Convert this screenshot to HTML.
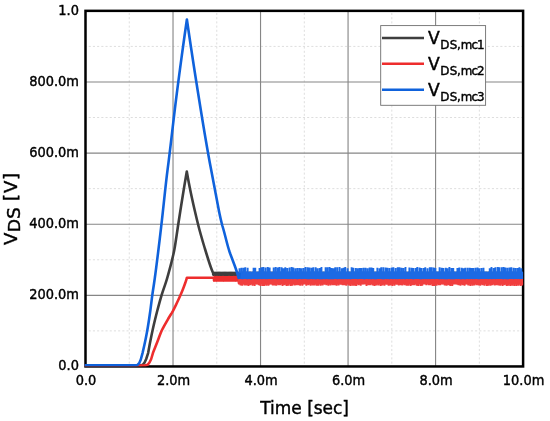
<!DOCTYPE html>
<html><head><meta charset="utf-8"><title>VDS plot</title>
<style>
html,body{margin:0;padding:0;background:#fff;}
body{width:550px;height:421px;overflow:hidden;}
svg{display:block;filter:blur(0.35px);}
text{font-family:"DejaVu Sans","Liberation Sans",sans-serif;fill:#000;stroke:#000;stroke-width:0.42px;}
</style></head><body>
<svg width="550" height="421" viewBox="0 0 550 421">
<defs><clipPath id="ax"><rect x="84.50" y="10.85" width="438.60" height="355.70"/></clipPath></defs>
<rect width="550" height="421" fill="#fff"/>
<line x1="129.26" y1="10.85" x2="129.26" y2="366.45" stroke="#dedede" stroke-width="1" stroke-dasharray="2.1 2.1" stroke-dashoffset="2.1"/>
<line x1="216.78" y1="10.85" x2="216.78" y2="366.45" stroke="#dedede" stroke-width="1" stroke-dasharray="2.1 2.1" stroke-dashoffset="2.1"/>
<line x1="304.30" y1="10.85" x2="304.30" y2="366.45" stroke="#dedede" stroke-width="1" stroke-dasharray="2.1 2.1" stroke-dashoffset="2.1"/>
<line x1="391.82" y1="10.85" x2="391.82" y2="366.45" stroke="#dedede" stroke-width="1" stroke-dasharray="2.1 2.1" stroke-dashoffset="2.1"/>
<line x1="479.34" y1="10.85" x2="479.34" y2="366.45" stroke="#dedede" stroke-width="1" stroke-dasharray="2.1 2.1" stroke-dashoffset="2.1"/>
<line x1="85.5" y1="330.89" x2="523.1" y2="330.89" stroke="#dedede" stroke-width="1" stroke-dasharray="2.1 2.1" stroke-dashoffset="1.0"/>
<line x1="85.5" y1="259.77" x2="523.1" y2="259.77" stroke="#dedede" stroke-width="1" stroke-dasharray="2.1 2.1" stroke-dashoffset="1.0"/>
<line x1="85.5" y1="188.65" x2="523.1" y2="188.65" stroke="#dedede" stroke-width="1" stroke-dasharray="2.1 2.1" stroke-dashoffset="1.0"/>
<line x1="85.5" y1="117.53" x2="523.1" y2="117.53" stroke="#dedede" stroke-width="1" stroke-dasharray="2.1 2.1" stroke-dashoffset="1.0"/>
<line x1="85.5" y1="46.41" x2="523.1" y2="46.41" stroke="#dedede" stroke-width="1" stroke-dasharray="2.1 2.1" stroke-dashoffset="1.0"/>
<line x1="173.02" y1="10.85" x2="173.02" y2="366.45" stroke="#868686" stroke-width="1.12"/>
<line x1="260.54" y1="10.85" x2="260.54" y2="366.45" stroke="#868686" stroke-width="1.12"/>
<line x1="348.06" y1="10.85" x2="348.06" y2="366.45" stroke="#868686" stroke-width="1.12"/>
<line x1="435.58" y1="10.85" x2="435.58" y2="366.45" stroke="#868686" stroke-width="1.12"/>
<line x1="85.5" y1="295.33" x2="523.1" y2="295.33" stroke="#868686" stroke-width="1.12"/>
<line x1="85.5" y1="224.21" x2="523.1" y2="224.21" stroke="#868686" stroke-width="1.12"/>
<line x1="85.5" y1="153.09" x2="523.1" y2="153.09" stroke="#868686" stroke-width="1.12"/>
<line x1="85.5" y1="81.97" x2="523.1" y2="81.97" stroke="#868686" stroke-width="1.12"/>
<rect x="85.5" y="10.85" width="437.6" height="355.59999999999997" fill="none" stroke="#000" stroke-width="2.5"/>
<g clip-path="url(#ax)" fill="none" stroke-width="2.6" stroke-linejoin="round" stroke-linecap="butt">
<polyline stroke="#3e3e3e" points="84.30,365.40 140.50,365.40 142.80,364.80 144.60,362.50 146.20,359.00 148.20,352.80 148.55,350.80 148.90,348.80 149.27,346.80 149.64,344.80 150.02,342.80 150.42,340.80 150.81,338.80 151.22,336.80 151.63,334.80 152.05,332.80 152.48,330.80 152.91,328.80 153.36,326.80 153.82,324.80 154.29,322.80 154.77,320.80 155.25,318.80 155.75,316.80 156.25,314.80 156.76,312.80 157.27,310.80 157.79,308.80 158.31,306.80 158.85,304.80 159.39,302.80 159.95,300.80 160.52,298.80 161.10,296.80 161.69,294.80 162.32,292.80 162.98,290.80 163.66,288.80 164.35,286.80 165.04,284.80 165.71,282.80 166.35,280.80 166.96,278.80 167.54,276.80 168.10,274.80 168.65,272.80 169.20,270.80 169.74,268.80 170.28,266.80 170.81,264.80 171.33,262.80 171.83,260.80 172.32,258.80 172.81,256.80 173.28,254.80 173.73,252.80 174.14,250.80 174.51,248.80 174.86,246.80 175.19,244.80 175.50,242.80 175.80,240.80 176.10,238.80 176.41,236.80 176.71,234.80 177.01,232.80 177.31,230.80 177.60,228.80 177.89,226.80 178.19,224.80 178.50,222.80 178.81,220.80 179.12,218.80 179.43,216.80 179.74,214.80 180.05,212.80 180.36,210.80 180.68,208.80 180.99,206.80 181.31,204.80 181.63,202.80 181.95,200.80 182.27,198.80 182.59,196.80 182.91,194.80 183.24,192.80 183.56,190.80 183.89,188.80 184.22,186.80 184.55,184.80 184.89,182.80 185.22,180.80 185.56,178.80 185.89,176.80 186.23,174.80 186.58,172.80 186.80,171.50 187.14,173.50 187.49,175.50 187.84,177.50 188.21,179.50 188.58,181.50 188.96,183.50 189.35,185.50 189.75,187.50 190.15,189.50 190.56,191.50 190.98,193.50 191.40,195.50 191.83,197.50 192.27,199.50 192.71,201.50 193.15,203.50 193.60,205.50 194.06,207.50 194.52,209.50 194.99,211.50 195.45,213.50 195.93,215.50 196.40,217.50 196.88,219.50 197.37,221.50 197.85,223.50 198.35,225.50 198.86,227.50 199.39,229.50 199.93,231.50 200.48,233.50 201.05,235.50 201.62,237.50 202.19,239.50 202.76,241.50 203.35,243.50 203.95,245.50 204.55,247.50 205.16,249.50 205.78,251.50 206.40,253.50 207.02,255.50 207.64,257.50 208.27,259.50 208.90,261.50 209.55,263.50 210.23,265.50 210.93,267.50 211.67,269.50 212.46,271.50 213.20,273.30 213.20,274.60 213.80,272.90 214.40,274.60 215.00,272.90 215.60,274.60 216.20,272.90 216.80,274.60 217.40,272.90 218.00,274.60 218.60,272.90 219.20,274.60 219.80,272.90 220.40,274.60 221.00,272.90 221.60,274.60 222.20,272.90 222.80,274.60 223.40,272.90 224.00,274.60 224.60,272.90 225.20,274.60 225.80,272.90 226.40,274.60 227.00,272.90 227.60,274.60 228.20,272.90 228.80,274.60 229.40,272.90 230.00,274.60 230.60,272.90 231.20,274.60 231.80,272.90 232.40,274.60 233.00,272.90 233.60,274.60 234.20,272.90 234.80,274.60 235.40,272.90 236.00,274.60 236.60,272.90 237.20,274.60 237.80,272.90 238.40,274.60 239.00,272.90 239.60,274.60 240.20,272.90 240.80,274.60 241.40,272.90 242.00,274.60 242.60,272.90 243.20,274.60 243.80,272.90 244.40,274.60 245.00,272.90 245.60,274.60 246.20,272.90 246.80,274.60 247.40,272.90 248.00,274.60 248.60,272.90 249.20,274.60 249.80,272.90 250.40,274.60 251.00,272.90 251.60,274.60 252.20,272.90 252.80,274.60 253.40,272.90 254.00,274.60 254.60,272.90 255.20,274.60 255.80,272.90 256.40,274.60 257.00,272.90 257.60,274.60 258.20,272.90 258.80,274.60 259.40,272.90 260.00,274.60 260.60,272.90 261.20,274.60 261.80,272.90 262.40,274.60 263.00,272.90 263.60,274.60 264.20,272.90 264.80,274.60 265.40,272.90 266.00,274.60 266.60,272.90 267.20,274.60 267.80,272.90 268.40,274.60 269.00,272.90 269.60,274.60 270.20,272.90 270.80,274.60 271.40,272.90 272.00,274.60 272.60,272.90 273.20,274.60 273.80,272.90 274.40,274.60 275.00,272.90 275.60,274.60 276.20,272.90 276.80,274.60 277.40,272.90 278.00,274.60 278.60,272.90 279.20,274.60 279.80,272.90 280.40,274.60 281.00,272.90 281.60,274.60 282.20,272.90 282.80,274.60 283.40,272.90 284.00,274.60 284.60,272.90 285.20,274.60 285.80,272.90 286.40,274.60 287.00,272.90 287.60,274.60 288.20,272.90 288.80,274.60 289.40,272.90 290.00,274.60 290.60,272.90 291.20,274.60 291.80,272.90 292.40,274.60 293.00,272.90 293.60,274.60 294.20,272.90 294.80,274.60 295.40,272.90 296.00,274.60 296.60,272.90 297.20,274.60 297.80,272.90 298.40,274.60 299.00,272.90 299.60,274.60 300.20,272.90 300.80,274.60 301.40,272.90 302.00,274.60 302.60,272.90 303.20,274.60 303.80,272.90 304.40,274.60 305.00,272.90 305.60,274.60 306.20,272.90 306.80,274.60 307.40,272.90 308.00,274.60 308.60,272.90 309.20,274.60 309.80,272.90 310.40,274.60 311.00,272.90 311.60,274.60 312.20,272.90 312.80,274.60 313.40,272.90 314.00,274.60 314.60,272.90 315.20,274.60 315.80,272.90 316.40,274.60 317.00,272.90 317.60,274.60 318.20,272.90 318.80,274.60 319.40,272.90 320.00,274.60 320.60,272.90 321.20,274.60 321.80,272.90 322.40,274.60 323.00,272.90 323.60,274.60 324.20,272.90 324.80,274.60 325.40,272.90 326.00,274.60 326.60,272.90 327.20,274.60 327.80,272.90 328.40,274.60 329.00,272.90 329.60,274.60 330.20,272.90 330.80,274.60 331.40,272.90 332.00,274.60 332.60,272.90 333.20,274.60 333.80,272.90 334.40,274.60 335.00,272.90 335.60,274.60 336.20,272.90 336.80,274.60 337.40,272.90 338.00,274.60 338.60,272.90 339.20,274.60 339.80,272.90 340.40,274.60 341.00,272.90 341.60,274.60 342.20,272.90 342.80,274.60 343.40,272.90 344.00,274.60 344.60,272.90 345.20,274.60 345.80,272.90 346.40,274.60 347.00,272.90 347.60,274.60 348.20,272.90 348.80,274.60 349.40,272.90 350.00,274.60 350.60,272.90 351.20,274.60 351.80,272.90 352.40,274.60 353.00,272.90 353.60,274.60 354.20,272.90 354.80,274.60 355.40,272.90 356.00,274.60 356.60,272.90 357.20,274.60 357.80,272.90 358.40,274.60 359.00,272.90 359.60,274.60 360.20,272.90 360.80,274.60 361.40,272.90 362.00,274.60 362.60,272.90 363.20,274.60 363.80,272.90 364.40,274.60 365.00,272.90 365.60,274.60 366.20,272.90 366.80,274.60 367.40,272.90 368.00,274.60 368.60,272.90 369.20,274.60 369.80,272.90 370.40,274.60 371.00,272.90 371.60,274.60 372.20,272.90 372.80,274.60 373.40,272.90 374.00,274.60 374.60,272.90 375.20,274.60 375.80,272.90 376.40,274.60 377.00,272.90 377.60,274.60 378.20,272.90 378.80,274.60 379.40,272.90 380.00,274.60 380.60,272.90 381.20,274.60 381.80,272.90 382.40,274.60 383.00,272.90 383.60,274.60 384.20,272.90 384.80,274.60 385.40,272.90 386.00,274.60 386.60,272.90 387.20,274.60 387.80,272.90 388.40,274.60 389.00,272.90 389.60,274.60 390.20,272.90 390.80,274.60 391.40,272.90 392.00,274.60 392.60,272.90 393.20,274.60 393.80,272.90 394.40,274.60 395.00,272.90 395.60,274.60 396.20,272.90 396.80,274.60 397.40,272.90 398.00,274.60 398.60,272.90 399.20,274.60 399.80,272.90 400.40,274.60 401.00,272.90 401.60,274.60 402.20,272.90 402.80,274.60 403.40,272.90 404.00,274.60 404.60,272.90 405.20,274.60 405.80,272.90 406.40,274.60 407.00,272.90 407.60,274.60 408.20,272.90 408.80,274.60 409.40,272.90 410.00,274.60 410.60,272.90 411.20,274.60 411.80,272.90 412.40,274.60 413.00,272.90 413.60,274.60 414.20,272.90 414.80,274.60 415.40,272.90 416.00,274.60 416.60,272.90 417.20,274.60 417.80,272.90 418.40,274.60 419.00,272.90 419.60,274.60 420.20,272.90 420.80,274.60 421.40,272.90 422.00,274.60 422.60,272.90 423.20,274.60 423.80,272.90 424.40,274.60 425.00,272.90 425.60,274.60 426.20,272.90 426.80,274.60 427.40,272.90 428.00,274.60 428.60,272.90 429.20,274.60 429.80,272.90 430.40,274.60 431.00,272.90 431.60,274.60 432.20,272.90 432.80,274.60 433.40,272.90 434.00,274.60 434.60,272.90 435.20,274.60 435.80,272.90 436.40,274.60 437.00,272.90 437.60,274.60 438.20,272.90 438.80,274.60 439.40,272.90 440.00,274.60 440.60,272.90 441.20,274.60 441.80,272.90 442.40,274.60 443.00,272.90 443.60,274.60 444.20,272.90 444.80,274.60 445.40,272.90 446.00,274.60 446.60,272.90 447.20,274.60 447.80,272.90 448.40,274.60 449.00,272.90 449.60,274.60 450.20,272.90 450.80,274.60 451.40,272.90 452.00,274.60 452.60,272.90 453.20,274.60 453.80,272.90 454.40,274.60 455.00,272.90 455.60,274.60 456.20,272.90 456.80,274.60 457.40,272.90 458.00,274.60 458.60,272.90 459.20,274.60 459.80,272.90 460.40,274.60 461.00,272.90 461.60,274.60 462.20,272.90 462.80,274.60 463.40,272.90 464.00,274.60 464.60,272.90 465.20,274.60 465.80,272.90 466.40,274.60 467.00,272.90 467.60,274.60 468.20,272.90 468.80,274.60 469.40,272.90 470.00,274.60 470.60,272.90 471.20,274.60 471.80,272.90 472.40,274.60 473.00,272.90 473.60,274.60 474.20,272.90 474.80,274.60 475.40,272.90 476.00,274.60 476.60,272.90 477.20,274.60 477.80,272.90 478.40,274.60 479.00,272.90 479.60,274.60 480.20,272.90 480.80,274.60 481.40,272.90 482.00,274.60 482.60,272.90 483.20,274.60 483.80,272.90 484.40,274.60 485.00,272.90 485.60,274.60 486.20,272.90 486.80,274.60 487.40,272.90 488.00,274.60 488.60,272.90 489.20,274.60 489.80,272.90 490.40,274.60 491.00,272.90 491.60,274.60 492.20,272.90 492.80,274.60 493.40,272.90 494.00,274.60 494.60,272.90 495.20,274.60 495.80,272.90 496.40,274.60 497.00,272.90 497.60,274.60 498.20,272.90 498.80,274.60 499.40,272.90 500.00,274.60 500.60,272.90 501.20,274.60 501.80,272.90 502.40,274.60 503.00,272.90 503.60,274.60 504.20,272.90 504.80,274.60 505.40,272.90 506.00,274.60 506.60,272.90 507.20,274.60 507.80,272.90 508.40,274.60 509.00,272.90 509.60,274.60 510.20,272.90 510.80,274.60 511.40,272.90 512.00,274.60 512.60,272.90 513.20,274.60 513.80,272.90 514.40,274.60 515.00,272.90 515.60,274.60 516.20,272.90 516.80,274.60 517.40,272.90 518.00,274.60 518.60,272.90 519.20,274.60 519.80,272.90 520.40,274.60 521.00,272.90 521.60,274.60 522.20,272.90 522.80,274.60 523.40,272.90 524.00,274.60"/>
<polyline stroke="#ee2d2d" points="84.30,365.50 145.00,365.50 147.50,364.80 149.50,362.50 151.20,359.00 153.00,352.80 153.80,350.80 154.60,348.80 155.40,346.80 156.19,344.80 156.98,342.80 157.76,340.80 158.51,338.80 159.25,336.80 160.00,334.80 160.79,332.80 161.65,330.80 162.61,328.80 163.65,326.80 164.76,324.80 165.90,322.80 167.04,320.80 168.20,318.80 169.42,316.80 170.66,314.80 171.87,312.80 172.99,310.80 174.01,308.80 175.00,306.80 175.99,304.80 176.96,302.80 177.91,300.80 178.84,298.80 179.74,296.80 180.63,294.80 181.49,292.80 182.32,290.80 183.11,288.80 183.88,286.80 184.61,284.80 185.31,282.80 185.96,280.80 186.58,278.80 186.90,277.70 214.00,277.70 214.00,280.59 214.60,277.11 215.20,280.41 215.80,277.28 216.40,280.57 217.00,277.15 217.60,280.53 218.20,277.24 218.80,280.52 219.40,277.18 220.00,280.52 220.60,277.27 221.20,280.49 221.80,277.22 222.40,280.54 223.00,277.10 223.60,280.59 224.20,277.19 224.80,280.49 225.40,277.25 226.00,280.41 226.60,277.29 227.20,280.49 227.80,277.24 228.40,280.48 229.00,277.12 229.60,280.51 230.20,277.19 230.80,280.45 231.40,277.30 232.00,280.47 232.60,277.27 233.20,280.50 233.80,277.10 234.40,280.53 235.00,277.26 235.60,280.58 236.20,277.14 236.80,280.55 237.40,277.12 238.00,280.55 238.60,277.14 239.20,280.47 239.80,277.10 239.00,283.25 239.50,276.89"/>
<polyline stroke="#f13e3e" points="239.00,283.25 239.50,276.89 240.00,283.27 240.50,276.88 241.00,283.33 241.50,276.99 242.00,283.20 242.50,276.83 243.00,283.25 243.50,276.95 244.00,283.40 244.50,276.91 245.00,283.37 245.50,276.90 246.00,283.33 246.50,276.97 247.00,283.33 247.50,276.83 248.00,283.30 248.50,276.85 249.00,283.33 249.50,276.99 250.00,283.35 250.50,276.88 251.00,283.26 251.50,276.99 252.00,283.37 252.50,276.91 253.00,283.34 253.50,276.82 254.00,283.34 254.50,276.82 255.00,283.28 255.50,276.84 256.00,283.29 256.50,276.81 257.00,283.38 257.50,276.98 258.00,283.23 258.50,276.96 259.00,283.39 259.50,276.91 260.00,283.33 260.50,276.94 261.00,283.30 261.50,276.92 262.00,283.27 262.50,276.88 263.00,283.32 263.50,276.82 264.00,283.34 264.50,276.81 265.00,283.37 265.50,276.80 266.00,283.33 266.50,276.97 267.00,283.37 267.50,276.81 268.00,283.38 268.50,276.89 269.00,283.34 269.50,276.96 270.00,283.37 270.50,276.89 271.00,283.26 271.50,276.99 272.00,283.37 272.50,276.80 273.00,283.22 273.50,276.84 274.00,283.28 274.50,276.97 275.00,283.26 275.50,276.85 276.00,283.37 276.50,276.99 277.00,283.32 277.50,276.99 278.00,283.34 278.50,276.93 279.00,283.38 279.50,276.80 280.00,283.30 280.50,276.80 281.00,283.26 281.50,276.98 282.00,283.32 282.50,276.99 283.00,283.24 283.50,276.92 284.00,283.32 284.50,276.97 285.00,283.21 285.50,276.83 286.00,283.26 286.50,276.81 287.00,283.38 287.50,276.92 288.00,283.29 288.50,276.90 289.00,283.33 289.50,276.88 290.00,283.31 290.50,276.88 291.00,283.39 291.50,276.90 292.00,283.29 292.50,276.86 293.00,283.25 293.50,276.94 294.00,283.40 294.50,276.90 295.00,283.31 295.50,277.00 296.00,283.28 296.50,276.88 297.00,283.20 297.50,276.88 298.00,283.33 298.50,276.99 299.00,283.33 299.50,276.91 300.00,283.34 300.50,276.93 301.00,283.34 301.50,276.85 302.00,283.20 302.50,276.99 303.00,283.34 303.50,276.81 304.00,283.25 304.50,276.91 305.00,283.32 305.50,276.94 306.00,283.27 306.50,276.94 307.00,283.27 307.50,276.88 308.00,283.26 308.50,276.92 309.00,283.35 309.50,276.99 310.00,283.31 310.50,276.85 311.00,283.26 311.50,276.96 312.00,283.36 312.50,276.95 313.00,283.24 313.50,276.91 314.00,283.34 314.50,276.98 315.00,283.26 315.50,276.93 316.00,283.37 316.50,276.91 317.00,283.37 317.50,276.97 318.00,283.27 318.50,276.87 319.00,283.38 319.50,276.91 320.00,283.25 320.50,276.98 321.00,283.31 321.50,276.96 322.00,283.36 322.50,276.83 323.00,283.24 323.50,276.94 324.00,283.36 324.50,276.87 325.00,283.36 325.50,276.93 326.00,283.23 326.50,276.94 327.00,283.36 327.50,276.95 328.00,283.27 328.50,276.92 329.00,283.28 329.50,276.92 330.00,283.38 330.50,276.97 331.00,283.20 331.50,276.81 332.00,283.38 332.50,276.80 333.00,283.29 333.50,276.81 334.00,283.39 334.50,276.96 335.00,283.35 335.50,276.83 336.00,283.33 336.50,276.90 337.00,283.26 337.50,276.93 338.00,283.25 338.50,276.99 339.00,283.32 339.50,276.94 340.00,283.36 340.50,276.99 341.00,283.38 341.50,276.86 342.00,283.38 342.50,276.82 343.00,283.38 343.50,276.88 344.00,283.20 344.50,276.85 345.00,283.23 345.50,276.94 346.00,283.33 346.50,276.90 347.00,283.28 347.50,276.81 348.00,283.32 348.50,276.93 349.00,283.25 349.50,276.83 350.00,283.30 350.50,276.84 351.00,283.27 351.50,276.96 352.00,283.31 352.50,276.84 353.00,283.23 353.50,276.84 354.00,283.38 354.50,276.84 355.00,283.36 355.50,277.00 356.00,283.33 356.50,276.83 357.00,283.21 357.50,276.95 358.00,283.25 358.50,276.89 359.00,283.28 359.50,276.91 360.00,283.36 360.50,277.00 361.00,283.21 361.50,276.97 362.00,283.22 362.50,276.99 363.00,283.39 363.50,276.83 364.00,283.22 364.50,276.90 365.00,283.26 365.50,276.94 366.00,283.27 366.50,276.87 367.00,283.32 367.50,276.93 368.00,283.24 368.50,276.93 369.00,283.22 369.50,276.89 370.00,283.34 370.50,276.92 371.00,283.22 371.50,276.96 372.00,283.27 372.50,276.88 373.00,283.36 373.50,276.92 374.00,283.36 374.50,276.88 375.00,283.29 375.50,276.93 376.00,283.30 376.50,276.86 377.00,283.28 377.50,276.86 378.00,283.29 378.50,276.95 379.00,283.31 379.50,276.86 380.00,283.21 380.50,276.92 381.00,283.29 381.50,276.82 382.00,283.39 382.50,276.93 383.00,283.38 383.50,276.84 384.00,283.25 384.50,276.91 385.00,283.22 385.50,276.84 386.00,283.33 386.50,276.82 387.00,283.36 387.50,276.87 388.00,283.35 388.50,276.89 389.00,283.22 389.50,276.88 390.00,283.20 390.50,276.97 391.00,283.35 391.50,276.99 392.00,283.22 392.50,276.98 393.00,283.38 393.50,276.96 394.00,283.20 394.50,276.83 395.00,283.22 395.50,276.83 396.00,283.33 396.50,276.83 397.00,283.39 397.50,276.88 398.00,283.36 398.50,276.99 399.00,283.35 399.50,276.90 400.00,283.34 400.50,276.98 401.00,283.35 401.50,276.81 402.00,283.21 402.50,276.94 403.00,283.31 403.50,276.83 404.00,283.25 404.50,276.96 405.00,283.25 405.50,276.88 406.00,283.35 406.50,276.92 407.00,283.27 407.50,276.92 408.00,283.27 408.50,276.92 409.00,283.22 409.50,276.90 410.00,283.39 410.50,276.92 411.00,283.35 411.50,276.97 412.00,283.34 412.50,276.85 413.00,283.33 413.50,276.90 414.00,283.30 414.50,276.87 415.00,283.38 415.50,276.97 416.00,283.22 416.50,276.85 417.00,283.38 417.50,276.90 418.00,283.29 418.50,276.86 419.00,283.24 419.50,276.95 420.00,283.24 420.50,276.88 421.00,283.26 421.50,276.95 422.00,283.34 422.50,276.81 423.00,283.26 423.50,276.86 424.00,283.28 424.50,276.83 425.00,283.32 425.50,276.95 426.00,283.24 426.50,277.00 427.00,283.30 427.50,276.92 428.00,283.23 428.50,276.93 429.00,283.26 429.50,276.85 430.00,283.23 430.50,276.80 431.00,283.30 431.50,276.88 432.00,283.29 432.50,276.83 433.00,283.36 433.50,276.89 434.00,283.30 434.50,276.86 435.00,283.37 435.50,276.92 436.00,283.35 436.50,276.81 437.00,283.29 437.50,276.95 438.00,283.25 438.50,276.86 439.00,283.34 439.50,276.81 440.00,283.37 440.50,276.95 441.00,283.24 441.50,276.95 442.00,283.24 442.50,276.86 443.00,283.37 443.50,276.82 444.00,283.25 444.50,276.83 445.00,283.26 445.50,276.92 446.00,283.35 446.50,276.98 447.00,283.22 447.50,276.83 448.00,283.26 448.50,276.93 449.00,283.32 449.50,276.86 450.00,283.20 450.50,276.93 451.00,283.29 451.50,276.90 452.00,283.24 452.50,276.88 453.00,283.39 453.50,276.92 454.00,283.31 454.50,276.98 455.00,283.25 455.50,276.87 456.00,283.22 456.50,276.82 457.00,283.38 457.50,276.98 458.00,283.39 458.50,276.93 459.00,283.35 459.50,276.85 460.00,283.26 460.50,276.86 461.00,283.33 461.50,276.84 462.00,283.25 462.50,276.85 463.00,283.39 463.50,276.87 464.00,283.31 464.50,276.98 465.00,283.30 465.50,276.93 466.00,283.34 466.50,276.86 467.00,283.31 467.50,276.96 468.00,283.33 468.50,276.87 469.00,283.24 469.50,276.82 470.00,283.33 470.50,276.98 471.00,283.39 471.50,276.97 472.00,283.27 472.50,276.86 473.00,283.32 473.50,276.89 474.00,283.33 474.50,276.91 475.00,283.26 475.50,276.96 476.00,283.21 476.50,276.86 477.00,283.35 477.50,276.89 478.00,283.35 478.50,276.93 479.00,283.25 479.50,276.92 480.00,283.37 480.50,276.99 481.00,283.30 481.50,276.95 482.00,283.35 482.50,276.93 483.00,283.27 483.50,276.92 484.00,283.31 484.50,276.85 485.00,283.27 485.50,276.83 486.00,283.22 486.50,276.95 487.00,283.22 487.50,276.98 488.00,283.36 488.50,276.85 489.00,283.24 489.50,276.96 490.00,283.28 490.50,276.85 491.00,283.36 491.50,276.85 492.00,283.32 492.50,276.97 493.00,283.28 493.50,276.96 494.00,283.31 494.50,276.89 495.00,283.24 495.50,276.95 496.00,283.36 496.50,276.99 497.00,283.36 497.50,276.82 498.00,283.39 498.50,276.92 499.00,283.31 499.50,276.88 500.00,283.33 500.50,276.80 501.00,283.34 501.50,276.94 502.00,283.37 502.50,276.90 503.00,283.32 503.50,276.85 504.00,283.20 504.50,276.85 505.00,283.33 505.50,276.90 506.00,283.30 506.50,276.91 507.00,283.24 507.50,276.89 508.00,283.21 508.50,276.90 509.00,283.33 509.50,276.91 510.00,283.31 510.50,276.81 511.00,283.38 511.50,276.97 512.00,283.36 512.50,276.88 513.00,283.21 513.50,276.93 514.00,283.25 514.50,276.98 515.00,283.31 515.50,276.81 516.00,283.26 516.50,276.83 517.00,283.34 517.50,276.97 518.00,283.37 518.50,276.88 519.00,283.39 519.50,276.86 520.00,283.35 520.50,276.93 521.00,283.36 521.50,276.81 522.00,283.37 522.50,276.91 523.00,283.35 523.50,276.90"/>
<path stroke="#f13e3e" stroke-width="1.9" d="M240.58 282.0V285.43M242.26 282.0V285.73M244.66 282.0V285.41M246.53 282.0V285.44M248.47 282.0V285.94M250.28 282.0V285.28M252.59 282.0V285.76M254.67 282.0V286.08M258.74 282.0V285.15M260.46 282.0V285.96M262.56 282.0V285.94M264.28 282.0V285.93M266.45 282.0V285.68M268.49 282.0V285.72M272.74 282.0V285.44M274.43 282.0V285.41M276.31 282.0V285.87M278.51 282.0V285.29M280.26 282.0V285.28M282.51 282.0V285.88M284.44 282.0V285.33M286.52 282.0V285.92M288.27 282.0V285.82M290.57 282.0V286.05M292.35 282.0V285.82M294.73 282.0V285.62M296.33 282.0V285.18M298.34 282.0V285.35M300.25 282.0V285.83M302.42 282.0V285.86M306.31 282.0V285.74M308.33 282.0V285.17M310.58 282.0V285.82M312.64 282.0V285.60M314.43 282.0V285.42M316.62 282.0V285.65M318.27 282.0V285.77M320.57 282.0V285.65M322.62 282.0V285.58M326.32 282.0V285.21M328.37 282.0V285.66M330.53 282.0V285.48M332.73 282.0V285.34M334.54 282.0V285.20M336.54 282.0V285.75M338.62 282.0V285.54M342.65 282.0V285.20M344.52 282.0V285.31M346.30 282.0V285.75M348.72 282.0V285.41M350.56 282.0V285.98M352.60 282.0V285.71M354.45 282.0V285.78M356.32 282.0V286.01M358.60 282.0V285.34M360.72 282.0V285.73M366.49 282.0V286.04M368.48 282.0V285.22M370.36 282.0V285.14M372.67 282.0V285.41M374.51 282.0V285.95M376.42 282.0V285.60M378.50 282.0V285.39M380.64 282.0V286.05M382.45 282.0V285.40M384.51 282.0V285.66M388.59 282.0V285.75M390.41 282.0V285.60M392.40 282.0V285.96M394.52 282.0V285.85M398.72 282.0V285.50M400.69 282.0V285.20M402.31 282.0V285.46M404.55 282.0V285.32M406.56 282.0V285.84M408.44 282.0V285.72M410.65 282.0V285.93M412.38 282.0V285.13M414.28 282.0V285.26M416.66 282.0V285.74M418.40 282.0V285.96M420.67 282.0V285.89M422.26 282.0V285.79M426.35 282.0V285.29M428.74 282.0V285.33M430.26 282.0V285.19M432.50 282.0V285.90M434.25 282.0V285.97M436.49 282.0V285.81M438.67 282.0V285.25M440.26 282.0V285.26M444.68 282.0V285.41M446.59 282.0V285.67M448.55 282.0V285.35M450.31 282.0V286.04M452.29 282.0V286.04M458.54 282.0V285.30M460.48 282.0V285.76M462.67 282.0V285.30M464.58 282.0V285.76M468.31 282.0V285.61M470.39 282.0V285.90M472.47 282.0V285.76M474.41 282.0V285.51M476.69 282.0V285.29M478.69 282.0V285.46M480.28 282.0V285.76M482.53 282.0V285.26M484.47 282.0V285.82M486.75 282.0V285.98M488.50 282.0V285.74M490.56 282.0V285.82M492.44 282.0V285.19M494.72 282.0V285.50M496.56 282.0V285.21M498.56 282.0V285.48M500.32 282.0V285.76M502.57 282.0V286.06M504.52 282.0V285.27M506.68 282.0V285.94M508.30 282.0V285.79M510.36 282.0V286.03M512.34 282.0V285.83M514.36 282.0V285.92M516.41 282.0V285.97M518.47 282.0V285.71M520.70 282.0V285.90M522.64 282.0V285.62"/>
<polyline stroke="#1c6ae4" points="239.00,277.75 239.50,272.98 240.00,277.78 240.50,272.97 241.00,277.71 241.50,272.92 242.00,277.88 242.50,272.84 243.00,277.85 243.50,272.96 244.00,277.81 244.50,272.94 245.00,277.73 245.50,272.98 246.00,277.74 246.50,272.81 247.00,277.87 247.50,272.84 248.00,277.86 248.50,272.96 249.00,277.76 249.50,272.87 250.00,277.85 250.50,272.83 251.00,277.88 251.50,272.98 252.00,277.82 252.50,272.87 253.00,277.80 253.50,272.96 254.00,277.79 254.50,272.98 255.00,277.89 255.50,272.83 256.00,277.81 256.50,272.94 257.00,277.88 257.50,272.89 258.00,277.88 258.50,272.83 259.00,277.80 259.50,272.92 260.00,277.82 260.50,272.91 261.00,277.73 261.50,272.94 262.00,277.86 262.50,272.99 263.00,277.71 263.50,272.87 264.00,277.76 264.50,272.89 265.00,277.79 265.50,272.93 266.00,277.90 266.50,272.96 267.00,277.78 267.50,272.96 268.00,277.83 268.50,272.94 269.00,277.77 269.50,272.85 270.00,277.76 270.50,272.89 271.00,277.88 271.50,272.98 272.00,277.71 272.50,272.95 273.00,277.85 273.50,272.88 274.00,277.75 274.50,272.93 275.00,277.74 275.50,272.91 276.00,277.71 276.50,272.86 277.00,277.88 277.50,272.81 278.00,277.85 278.50,272.81 279.00,277.70 279.50,272.94 280.00,277.89 280.50,272.84 281.00,277.78 281.50,272.81 282.00,277.82 282.50,272.84 283.00,277.76 283.50,272.96 284.00,277.79 284.50,272.97 285.00,277.78 285.50,272.81 286.00,277.77 286.50,273.00 287.00,277.71 287.50,272.97 288.00,277.86 288.50,272.93 289.00,277.76 289.50,272.98 290.00,277.90 290.50,272.92 291.00,277.74 291.50,272.99 292.00,277.71 292.50,272.97 293.00,277.84 293.50,272.97 294.00,277.71 294.50,272.90 295.00,277.75 295.50,272.80 296.00,277.72 296.50,272.89 297.00,277.85 297.50,272.92 298.00,277.90 298.50,272.90 299.00,277.75 299.50,272.92 300.00,277.71 300.50,272.92 301.00,277.75 301.50,272.82 302.00,277.87 302.50,272.90 303.00,277.71 303.50,272.95 304.00,277.75 304.50,272.96 305.00,277.75 305.50,272.83 306.00,277.73 306.50,272.99 307.00,277.89 307.50,272.89 308.00,277.90 308.50,272.92 309.00,277.88 309.50,272.87 310.00,277.86 310.50,272.85 311.00,277.80 311.50,272.98 312.00,277.74 312.50,272.83 313.00,277.88 313.50,272.82 314.00,277.77 314.50,272.87 315.00,277.86 315.50,272.87 316.00,277.86 316.50,272.89 317.00,277.83 317.50,272.86 318.00,277.75 318.50,272.82 319.00,277.89 319.50,272.99 320.00,277.89 320.50,272.81 321.00,277.83 321.50,272.99 322.00,277.88 322.50,272.97 323.00,277.89 323.50,272.87 324.00,277.71 324.50,272.97 325.00,277.83 325.50,272.89 326.00,277.85 326.50,272.81 327.00,277.74 327.50,273.00 328.00,277.88 328.50,273.00 329.00,277.88 329.50,272.98 330.00,277.86 330.50,272.84 331.00,277.88 331.50,272.89 332.00,277.88 332.50,272.96 333.00,277.83 333.50,272.93 334.00,277.88 334.50,272.85 335.00,277.79 335.50,272.89 336.00,277.71 336.50,272.99 337.00,277.82 337.50,272.90 338.00,277.87 338.50,272.88 339.00,277.73 339.50,272.93 340.00,277.85 340.50,272.90 341.00,277.70 341.50,272.83 342.00,277.87 342.50,272.98 343.00,277.81 343.50,272.92 344.00,277.86 344.50,272.94 345.00,277.75 345.50,272.90 346.00,277.89 346.50,272.98 347.00,277.72 347.50,272.88 348.00,277.88 348.50,272.90 349.00,277.79 349.50,272.83 350.00,277.86 350.50,272.99 351.00,277.88 351.50,272.96 352.00,277.76 352.50,272.83 353.00,277.78 353.50,272.84 354.00,277.73 354.50,272.83 355.00,277.74 355.50,272.97 356.00,277.80 356.50,272.93 357.00,277.81 357.50,272.82 358.00,277.84 358.50,273.00 359.00,277.76 359.50,272.89 360.00,277.80 360.50,272.86 361.00,277.80 361.50,272.98 362.00,277.75 362.50,272.83 363.00,277.77 363.50,272.85 364.00,277.90 364.50,272.87 365.00,277.84 365.50,272.88 366.00,277.76 366.50,272.82 367.00,277.79 367.50,272.82 368.00,277.76 368.50,272.83 369.00,277.86 369.50,272.88 370.00,277.79 370.50,272.97 371.00,277.85 371.50,272.93 372.00,277.83 372.50,272.97 373.00,277.72 373.50,272.97 374.00,277.86 374.50,272.96 375.00,277.88 375.50,272.93 376.00,277.82 376.50,272.93 377.00,277.82 377.50,272.98 378.00,277.78 378.50,272.81 379.00,277.74 379.50,272.87 380.00,277.77 380.50,272.94 381.00,277.70 381.50,273.00 382.00,277.89 382.50,272.83 383.00,277.86 383.50,272.84 384.00,277.89 384.50,272.97 385.00,277.82 385.50,272.90 386.00,277.81 386.50,272.81 387.00,277.85 387.50,272.81 388.00,277.72 388.50,272.87 389.00,277.84 389.50,272.85 390.00,277.82 390.50,272.83 391.00,277.76 391.50,272.81 392.00,277.78 392.50,272.88 393.00,277.88 393.50,272.86 394.00,277.76 394.50,272.95 395.00,277.77 395.50,272.87 396.00,277.90 396.50,272.82 397.00,277.78 397.50,272.92 398.00,277.86 398.50,272.94 399.00,277.78 399.50,273.00 400.00,277.74 400.50,272.89 401.00,277.84 401.50,272.88 402.00,277.77 402.50,272.81 403.00,277.82 403.50,272.97 404.00,277.71 404.50,272.81 405.00,277.90 405.50,272.82 406.00,277.82 406.50,272.94 407.00,277.72 407.50,272.95 408.00,277.74 408.50,272.81 409.00,277.88 409.50,272.84 410.00,277.73 410.50,272.95 411.00,277.76 411.50,272.81 412.00,277.73 412.50,272.84 413.00,277.84 413.50,272.89 414.00,277.89 414.50,272.95 415.00,277.80 415.50,272.97 416.00,277.72 416.50,272.99 417.00,277.76 417.50,272.98 418.00,277.71 418.50,272.80 419.00,277.76 419.50,272.82 420.00,277.84 420.50,272.85 421.00,277.83 421.50,272.81 422.00,277.88 422.50,272.86 423.00,277.81 423.50,272.86 424.00,277.84 424.50,272.89 425.00,277.80 425.50,272.97 426.00,277.87 426.50,272.90 427.00,277.71 427.50,272.97 428.00,277.87 428.50,272.95 429.00,277.78 429.50,272.86 430.00,277.87 430.50,272.93 431.00,277.78 431.50,272.92 432.00,277.71 432.50,272.82 433.00,277.70 433.50,272.81 434.00,277.73 434.50,272.97 435.00,277.87 435.50,272.84 436.00,277.75 436.50,272.89 437.00,277.80 437.50,272.86 438.00,277.74 438.50,272.83 439.00,277.90 439.50,272.86 440.00,277.88 440.50,272.81 441.00,277.78 441.50,272.83 442.00,277.87 442.50,272.88 443.00,277.72 443.50,272.88 444.00,277.88 444.50,272.94 445.00,277.83 445.50,272.82 446.00,277.82 446.50,272.99 447.00,277.83 447.50,272.95 448.00,277.87 448.50,272.87 449.00,277.76 449.50,272.82 450.00,277.83 450.50,272.93 451.00,277.87 451.50,272.82 452.00,277.88 452.50,272.82 453.00,277.83 453.50,272.86 454.00,277.82 454.50,272.89 455.00,277.90 455.50,272.93 456.00,277.72 456.50,272.86 457.00,277.80 457.50,272.89 458.00,277.82 458.50,272.95 459.00,277.74 459.50,272.99 460.00,277.86 460.50,272.82 461.00,277.84 461.50,272.98 462.00,277.90 462.50,272.83 463.00,277.80 463.50,273.00 464.00,277.87 464.50,272.88 465.00,277.82 465.50,273.00 466.00,277.85 466.50,272.99 467.00,277.80 467.50,272.97 468.00,277.77 468.50,272.82 469.00,277.85 469.50,272.84 470.00,277.76 470.50,272.92 471.00,277.82 471.50,272.99 472.00,277.78 472.50,272.81 473.00,277.85 473.50,272.83 474.00,277.76 474.50,272.86 475.00,277.86 475.50,272.86 476.00,277.79 476.50,272.97 477.00,277.70 477.50,272.82 478.00,277.89 478.50,272.94 479.00,277.85 479.50,272.92 480.00,277.83 480.50,272.83 481.00,277.76 481.50,272.88 482.00,277.75 482.50,272.90 483.00,277.71 483.50,272.95 484.00,277.76 484.50,272.82 485.00,277.73 485.50,272.85 486.00,277.72 486.50,272.80 487.00,277.73 487.50,272.98 488.00,277.74 488.50,272.81 489.00,277.83 489.50,272.82 490.00,277.80 490.50,272.98 491.00,277.77 491.50,272.91 492.00,277.90 492.50,272.97 493.00,277.75 493.50,272.83 494.00,277.72 494.50,272.81 495.00,277.76 495.50,272.89 496.00,277.83 496.50,272.82 497.00,277.72 497.50,272.83 498.00,277.74 498.50,272.86 499.00,277.71 499.50,272.85 500.00,277.74 500.50,272.96 501.00,277.71 501.50,272.94 502.00,277.77 502.50,272.80 503.00,277.82 503.50,272.93 504.00,277.90 504.50,272.97 505.00,277.74 505.50,272.81 506.00,277.89 506.50,272.86 507.00,277.90 507.50,272.99 508.00,277.88 508.50,272.86 509.00,277.83 509.50,272.83 510.00,277.72 510.50,272.96 511.00,277.73 511.50,272.90 512.00,277.81 512.50,272.89 513.00,277.77 513.50,272.85 514.00,277.87 514.50,272.85 515.00,277.71 515.50,272.97 516.00,277.74 516.50,272.95 517.00,277.81 517.50,272.96 518.00,277.82 518.50,272.93 519.00,277.77 519.50,272.86 520.00,277.89 520.50,272.96 521.00,277.77 521.50,272.80 522.00,277.74 522.50,272.99 523.00,277.74 523.50,272.83"/>
<path stroke="#1c6ae4" stroke-width="1.9" d="M239.53 274.0V268.15M241.50 274.0V267.71M243.51 274.0V267.77M245.30 274.0V267.34M247.65 274.0V267.85M253.58 274.0V267.75M255.26 274.0V267.64M259.55 274.0V267.96M261.55 274.0V267.20M263.40 274.0V266.96M265.58 274.0V267.48M267.72 274.0V267.06M269.63 274.0V267.62M273.67 274.0V267.45M275.67 274.0V266.95M277.71 274.0V267.56M279.45 274.0V267.04M281.64 274.0V267.30M283.42 274.0V268.20M285.31 274.0V267.27M287.28 274.0V267.99M289.53 274.0V267.53M291.62 274.0V267.12M293.31 274.0V267.50M295.38 274.0V268.21M297.40 274.0V268.10M299.45 274.0V268.06M301.30 274.0V268.24M303.38 274.0V267.95M305.40 274.0V267.05M307.54 274.0V267.27M309.44 274.0V267.54M311.49 274.0V267.70M313.34 274.0V267.15M315.66 274.0V267.27M317.62 274.0V268.17M319.73 274.0V268.10M321.46 274.0V267.08M325.60 274.0V267.28M327.55 274.0V267.33M329.61 274.0V267.04M331.53 274.0V268.06M333.39 274.0V268.14M335.26 274.0V267.30M337.28 274.0V267.18M339.54 274.0V267.12M341.70 274.0V268.22M343.60 274.0V267.71M345.27 274.0V266.97M347.60 274.0V268.20M351.62 274.0V267.36M353.29 274.0V267.66M355.70 274.0V267.91M357.65 274.0V268.14M359.59 274.0V268.12M361.46 274.0V267.98M363.54 274.0V267.76M365.54 274.0V267.74M367.57 274.0V268.24M369.61 274.0V267.45M371.54 274.0V267.52M373.29 274.0V267.93M377.37 274.0V267.86M379.56 274.0V268.15M381.26 274.0V267.34M383.35 274.0V267.17M385.58 274.0V267.52M387.41 274.0V267.82M389.47 274.0V268.00M391.69 274.0V267.45M393.41 274.0V267.13M395.67 274.0V268.05M397.73 274.0V267.31M399.48 274.0V267.31M401.46 274.0V267.76M403.41 274.0V268.04M405.48 274.0V267.05M409.39 274.0V267.41M411.53 274.0V267.78M413.34 274.0V267.95M415.64 274.0V267.99M417.31 274.0V267.09M419.57 274.0V267.43M421.35 274.0V268.02M423.61 274.0V267.93M425.27 274.0V267.24M427.52 274.0V268.18M429.75 274.0V267.16M431.60 274.0V267.24M433.70 274.0V267.45M435.35 274.0V268.10M439.58 274.0V267.22M441.66 274.0V267.78M443.36 274.0V268.12M445.74 274.0V267.65M447.41 274.0V268.13M449.42 274.0V267.06M451.53 274.0V267.95M453.26 274.0V268.00M457.42 274.0V267.97M459.32 274.0V267.62M461.67 274.0V267.85M463.50 274.0V268.18M465.36 274.0V267.63M467.61 274.0V267.78M469.67 274.0V267.68M471.44 274.0V268.05M473.35 274.0V268.06M475.51 274.0V267.69M477.52 274.0V267.60M479.26 274.0V268.21M481.45 274.0V267.99M483.50 274.0V267.85M489.73 274.0V268.15M491.49 274.0V267.12M493.66 274.0V268.12M495.41 274.0V267.20M497.71 274.0V267.12M499.26 274.0V267.20M501.59 274.0V267.37M503.56 274.0V267.09M505.31 274.0V267.61M507.35 274.0V267.64M509.44 274.0V267.49M511.33 274.0V267.22M513.57 274.0V267.64M515.56 274.0V268.06M517.62 274.0V268.00M519.41 274.0V267.36M521.36 274.0V268.25"/>
<polyline stroke="#0f62dc" points="84.30,365.30 135.50,365.30 137.50,364.90 139.20,363.20 140.80,359.50 142.60,352.80 143.07,350.80 143.53,348.80 143.99,346.80 144.43,344.80 144.86,342.80 145.28,340.80 145.69,338.80 146.09,336.80 146.47,334.80 146.85,332.80 147.21,330.80 147.56,328.80 147.90,326.80 148.22,324.80 148.54,322.80 148.85,320.80 149.16,318.80 149.45,316.80 149.74,314.80 150.03,312.80 150.30,310.80 150.56,308.80 150.82,306.80 151.06,304.80 151.31,302.80 151.56,300.80 151.81,298.80 152.07,296.80 152.34,294.80 152.63,292.80 152.93,290.80 153.23,288.80 153.54,286.80 153.85,284.80 154.14,282.80 154.43,280.80 154.70,278.80 154.98,276.80 155.25,274.80 155.51,272.80 155.77,270.80 156.04,268.80 156.29,266.80 156.55,264.80 156.80,262.80 157.05,260.80 157.30,258.80 157.55,256.80 157.80,254.80 158.05,252.80 158.29,250.80 158.54,248.80 158.78,246.80 159.02,244.80 159.27,242.80 159.51,240.80 159.75,238.80 159.98,236.80 160.22,234.80 160.45,232.80 160.69,230.80 160.92,228.80 161.15,226.80 161.38,224.80 161.61,222.80 161.84,220.80 162.06,218.80 162.29,216.80 162.51,214.80 162.73,212.80 162.94,210.80 163.16,208.80 163.38,206.80 163.59,204.80 163.81,202.80 164.02,200.80 164.24,198.80 164.45,196.80 164.67,194.80 164.89,192.80 165.10,190.80 165.32,188.80 165.54,186.80 165.77,184.80 165.99,182.80 166.22,180.80 166.45,178.80 166.69,176.80 166.92,174.80 167.17,172.80 167.42,170.80 167.67,168.80 167.93,166.80 168.19,164.80 168.45,162.80 168.70,160.80 168.95,158.80 169.19,156.80 169.44,154.80 169.68,152.80 169.92,150.80 170.16,148.80 170.40,146.80 170.64,144.80 170.88,142.80 171.11,140.80 171.35,138.80 171.58,136.80 171.82,134.80 172.05,132.80 172.28,130.80 172.52,128.80 172.75,126.80 172.99,124.80 173.22,122.80 173.46,120.80 173.69,118.80 173.93,116.80 174.17,114.80 174.41,112.80 174.65,110.80 174.89,108.80 175.13,106.80 175.38,104.80 175.62,102.80 175.87,100.80 176.12,98.80 176.37,96.80 176.63,94.80 176.88,92.80 177.14,90.80 177.39,88.80 177.65,86.80 177.91,84.80 178.17,82.80 178.43,80.80 178.70,78.80 178.96,76.80 179.22,74.80 179.49,72.80 179.76,70.80 180.02,68.80 180.29,66.80 180.56,64.80 180.83,62.80 181.10,60.80 181.37,58.80 181.64,56.80 181.92,54.80 182.19,52.80 182.47,50.80 182.74,48.80 183.02,46.80 183.30,44.80 183.58,42.80 183.86,40.80 184.14,38.80 184.42,36.80 184.70,34.80 184.99,32.80 185.27,30.80 185.56,28.80 185.85,26.80 186.13,24.80 186.42,22.80 186.71,20.80 186.90,19.50 187.19,21.50 187.48,23.50 187.77,25.50 188.06,27.50 188.35,29.50 188.65,31.50 188.94,33.50 189.23,35.50 189.53,37.50 189.83,39.50 190.12,41.50 190.42,43.50 190.72,45.50 191.02,47.50 191.32,49.50 191.63,51.50 191.93,53.50 192.23,55.50 192.54,57.50 192.84,59.50 193.15,61.50 193.45,63.50 193.76,65.50 194.07,67.50 194.38,69.50 194.69,71.50 195.00,73.50 195.31,75.50 195.63,77.50 195.94,79.50 196.25,81.50 196.57,83.50 196.89,85.50 197.20,87.50 197.52,89.50 197.84,91.50 198.16,93.50 198.48,95.50 198.80,97.50 199.12,99.50 199.44,101.50 199.76,103.50 200.08,105.50 200.40,107.50 200.72,109.50 201.05,111.50 201.37,113.50 201.70,115.50 202.03,117.50 202.35,119.50 202.68,121.50 203.01,123.50 203.34,125.50 203.68,127.50 204.01,129.50 204.34,131.50 204.68,133.50 205.02,135.50 205.36,137.50 205.70,139.50 206.04,141.50 206.39,143.50 206.73,145.50 207.08,147.50 207.43,149.50 207.78,151.50 208.14,153.50 208.49,155.50 208.85,157.50 209.21,159.50 209.57,161.50 209.95,163.50 210.33,165.50 210.72,167.50 211.10,169.50 211.48,171.50 211.86,173.50 212.24,175.50 212.62,177.50 213.00,179.50 213.37,181.50 213.75,183.50 214.13,185.50 214.51,187.50 214.89,189.50 215.26,191.50 215.64,193.50 216.03,195.50 216.41,197.50 216.79,199.50 217.17,201.50 217.54,203.50 217.92,205.50 218.30,207.50 218.68,209.50 219.08,211.50 219.48,213.50 219.91,215.50 220.35,217.50 220.80,219.50 221.28,221.50 221.77,223.50 222.30,225.50 222.88,227.50 223.46,229.50 224.01,231.50 224.54,233.50 225.06,235.50 225.58,237.50 226.09,239.50 226.61,241.50 227.13,243.50 227.68,245.50 228.24,247.50 228.83,249.50 229.46,251.50 230.15,253.50 230.89,255.50 231.65,257.50 232.41,259.50 233.14,261.50 233.89,263.50 234.64,265.50 235.37,267.50 236.07,269.50 236.72,271.50 237.33,273.50 237.92,275.50 238.47,277.50 238.60,278.00 239.00,277.75 239.50,272.98"/>
</g>
<rect x="380.7" y="25.6" width="104.9" height="79.7" fill="#fff" stroke="#6e6e6e" stroke-width="0.9"/>
<line x1="382" y1="38" x2="424" y2="38" stroke="#3e3e3e" stroke-width="2.5"/>
<text transform="translate(428.00,44.00) scale(1.0,1)" font-size="17.2px" text-anchor="start">V<tspan dx="0.5 0.4 -0.3 -0.2 -0.8 -1.1" dy="4.8" font-size="11.9px">DS,mc1</tspan></text>
<line x1="382" y1="63.8" x2="424" y2="63.8" stroke="#ee2d2d" stroke-width="2.5"/>
<text transform="translate(428.00,69.80) scale(1.0,1)" font-size="17.2px" text-anchor="start">V<tspan dx="0.5 0.4 -0.3 -0.2 -0.8 -1.1" dy="4.8" font-size="11.9px">DS,mc2</tspan></text>
<line x1="382" y1="89.7" x2="424" y2="89.7" stroke="#0f62dc" stroke-width="2.5"/>
<text transform="translate(428.00,95.70) scale(1.0,1)" font-size="17.2px" text-anchor="start">V<tspan dx="0.5 0.4 -0.3 -0.2 -0.8 -1.1" dy="4.8" font-size="11.9px">DS,mc3</tspan></text>
<text transform="translate(86.00,385.30) scale(0.955,1)" font-size="13.6px" text-anchor="middle">0.0</text>
<text transform="translate(173.52,385.30) scale(0.955,1)" font-size="13.6px" text-anchor="middle">2.0m</text>
<text transform="translate(261.04,385.30) scale(0.955,1)" font-size="13.6px" text-anchor="middle">4.0m</text>
<text transform="translate(348.56,385.30) scale(0.955,1)" font-size="13.6px" text-anchor="middle">6.0m</text>
<text transform="translate(436.08,385.30) scale(0.955,1)" font-size="13.6px" text-anchor="middle">8.0m</text>
<text transform="translate(523.60,385.30) scale(0.955,1)" font-size="13.6px" text-anchor="middle">10.0m</text>
<text transform="translate(79.00,370.30) scale(0.955,1)" font-size="13.6px" text-anchor="end">0.0</text>
<text transform="translate(79.00,299.18) scale(0.955,1)" font-size="13.6px" text-anchor="end">200.0m</text>
<text transform="translate(79.00,228.06) scale(0.955,1)" font-size="13.6px" text-anchor="end">400.0m</text>
<text transform="translate(79.00,156.94) scale(0.955,1)" font-size="13.6px" text-anchor="end">600.0m</text>
<text transform="translate(79.00,85.82) scale(0.955,1)" font-size="13.6px" text-anchor="end">800.0m</text>
<text transform="translate(79.00,14.70) scale(0.955,1)" font-size="13.6px" text-anchor="end">1.0</text>
<text transform="translate(304.60,413.50) scale(0.97,1)" font-size="17.5px" text-anchor="middle">Time [sec]</text>
<text transform="translate(16.7,244.9) rotate(-90) scale(1,0.97)" font-size="18px">V<tspan dx="0.3" dy="3.4" font-size="17.2px">D</tspan><tspan dx="0" font-size="18.8px">S</tspan><tspan dx="0.4" dy="-3.4" font-size="18px"> [</tspan><tspan dx="0.9">V</tspan><tspan dx="0.8">]</tspan></text>
</svg>
</body></html>
